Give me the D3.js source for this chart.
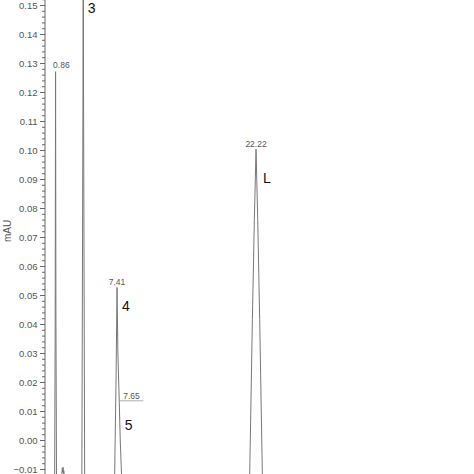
<!DOCTYPE html>
<html>
<head>
<meta charset="utf-8">
<script src="https://cdn.jsdelivr.net/npm/d3@7"></script>
<style>
  html, body { margin: 0; padding: 0; background: #fff; }
  svg { display: block; }
  .tick text { font-family: "Liberation Sans", Arial, sans-serif; font-size: 9.5px; fill: #555; }
  .axis path, .axis line { stroke: #666; }
</style>
</head>
<body>
<svg id="chart" width="474" height="474"></svg>
<script>
// trace (retention time in min, absorbance in mAU units as printed)
const traceTime = [0.0, 0.76, 0.82, 0.86, 0.9, 0.96, 1.5, 1.58, 1.62, 1.66, 1.7, 1.74, 1.8,
  3.66, 3.78, 3.81, 3.84, 3.96, 7.15, 7.3, 7.41, 7.5, 7.65, 7.75, 7.9,
  21.54, 21.83, 22.04, 22.22, 22.4, 22.61, 22.9, 30.0];
const traceAbs = [-0.013, -0.013, 0.04, 0.127, 0.04, -0.013, -0.013, -0.0097, -0.0112, -0.0094, -0.0115, -0.0106, -0.013,
  -0.013, 0.12, 0.19, 0.12, -0.013, -0.013, 0.02, 0.0526, 0.03, 0.013, 0.0, -0.013,
  -0.013, 0.0415, 0.076, 0.1003, 0.076, 0.0415, -0.013, -0.013];

const rtLabels = ["0.86", "7.41", "7.65", "22.22"];
const rtTimes = [0.86, 7.41, 7.65, 22.22];
const rtAbs = [0.127, 0.0526, 0.013, 0.1003];

const peakNames = ["3", "4", "5", "L"];
const peakTimes = [3.81, 7.41, 7.65, 22.22];
const peakAbs = [0.152, 0.0526, 0.013, 0.1003];

const yMajor = [-0.01, 0.0, 0.01, 0.02, 0.03, 0.04, 0.05, 0.06, 0.07, 0.08, 0.09, 0.10, 0.11, 0.12, 0.13, 0.14, 0.15];
const yTitle = "mAU";

const svg = d3.select('#chart');

const x = d3.scaleLinear().domain([0, 30]).range([47.5, 47.5 + 30 * 9.385]);
const y = d3.scaleLinear().domain([-0.01, 0.15]).range([469, 5]);

const axisX = 45;

// minor ticks every 0.002
const yMinor = d3.range(-0.012, 0.1521, 0.002).map(v => +v.toFixed(3))
  .filter(v => !yMajor.some(m => Math.abs(m - v) < 1e-6));

svg.append('g')
  .attr('class', 'axis')
  .attr('transform', `translate(${axisX},0)`)
  .call(d3.axisLeft(y).tickValues(yMinor).tickSize(3).tickFormat(''))
  .call(g => g.select('.domain').remove());

svg.append('g')
  .attr('class', 'axis')
  .attr('transform', `translate(${axisX},0)`)
  .call(d3.axisLeft(y).tickValues(yMajor).tickSize(5).tickPadding(2.5).tickFormat(d3.format('.2f')))
  .call(g => g.select('.domain').remove());

svg.append('line')
  .attr('x1', axisX).attr('x2', axisX)
  .attr('y1', 0).attr('y2', 474)
  .attr('stroke', '#666')
  .attr('stroke-width', 1);

svg.append('text')
  .attr('transform', 'translate(11,231) rotate(-90)')
  .attr('text-anchor', 'middle')
  .style('font-family', '"Liberation Sans", Arial, sans-serif')
  .style('font-size', '10px')
  .style('fill', '#555')
  .text(yTitle);

const trace = traceTime.map((t, i) => [t, traceAbs[i]]);

svg.append('path')
  .datum(trace)
  .attr('fill', 'none')
  .attr('stroke', '#777')
  .attr('stroke-width', 1)
  .attr('d', d3.line().x(d => x(d[0])).y(d => y(d[1])));

// retention time labels
const rtLayout = [
  { anchor: 'start', dx: -2.5, dy: -4 },
  { anchor: 'middle', dx: 0, dy: -2 },
  { anchor: 'start', dx: 4, dy: -3 },
  { anchor: 'middle', dx: 0, dy: -2.5 }
];

rtLabels.forEach((lab, i) => {
  const px = x(rtTimes[i]);
  const py = y(rtAbs[i]);
  svg.append('text')
    .attr('x', px + rtLayout[i].dx)
    .attr('y', py + rtLayout[i].dy)
    .attr('text-anchor', rtLayout[i].anchor)
    .style('font-family', '"Liberation Sans", Arial, sans-serif')
    .style('font-size', '8.5px')
    .style('fill', '#555')
    .text(lab);
  if (lab === '7.65') {
    svg.append('line')
      .attr('x1', px).attr('x2', px + 24)
      .attr('y1', py - 1.5).attr('y2', py - 1.5)
      .attr('stroke', '#999')
      .attr('stroke-width', 0.8);
  }
});

// peak numbers
const nameLayout = [
  { dx: 4.5, dy: 14 },
  { dx: 5, dy: 24 },
  { dx: 5.5, dy: 28 },
  { dx: 7, dy: 34 }
];

peakNames.forEach((lab, i) => {
  svg.append('text')
    .attr('x', x(peakTimes[i]) + nameLayout[i].dx)
    .attr('y', y(peakAbs[i]) + nameLayout[i].dy)
    .style('font-family', '"Liberation Sans", Arial, sans-serif')
    .style('font-size', '14px')
    .style('fill', '#111')
    .text(lab);
});
</script>
</body>
</html>
